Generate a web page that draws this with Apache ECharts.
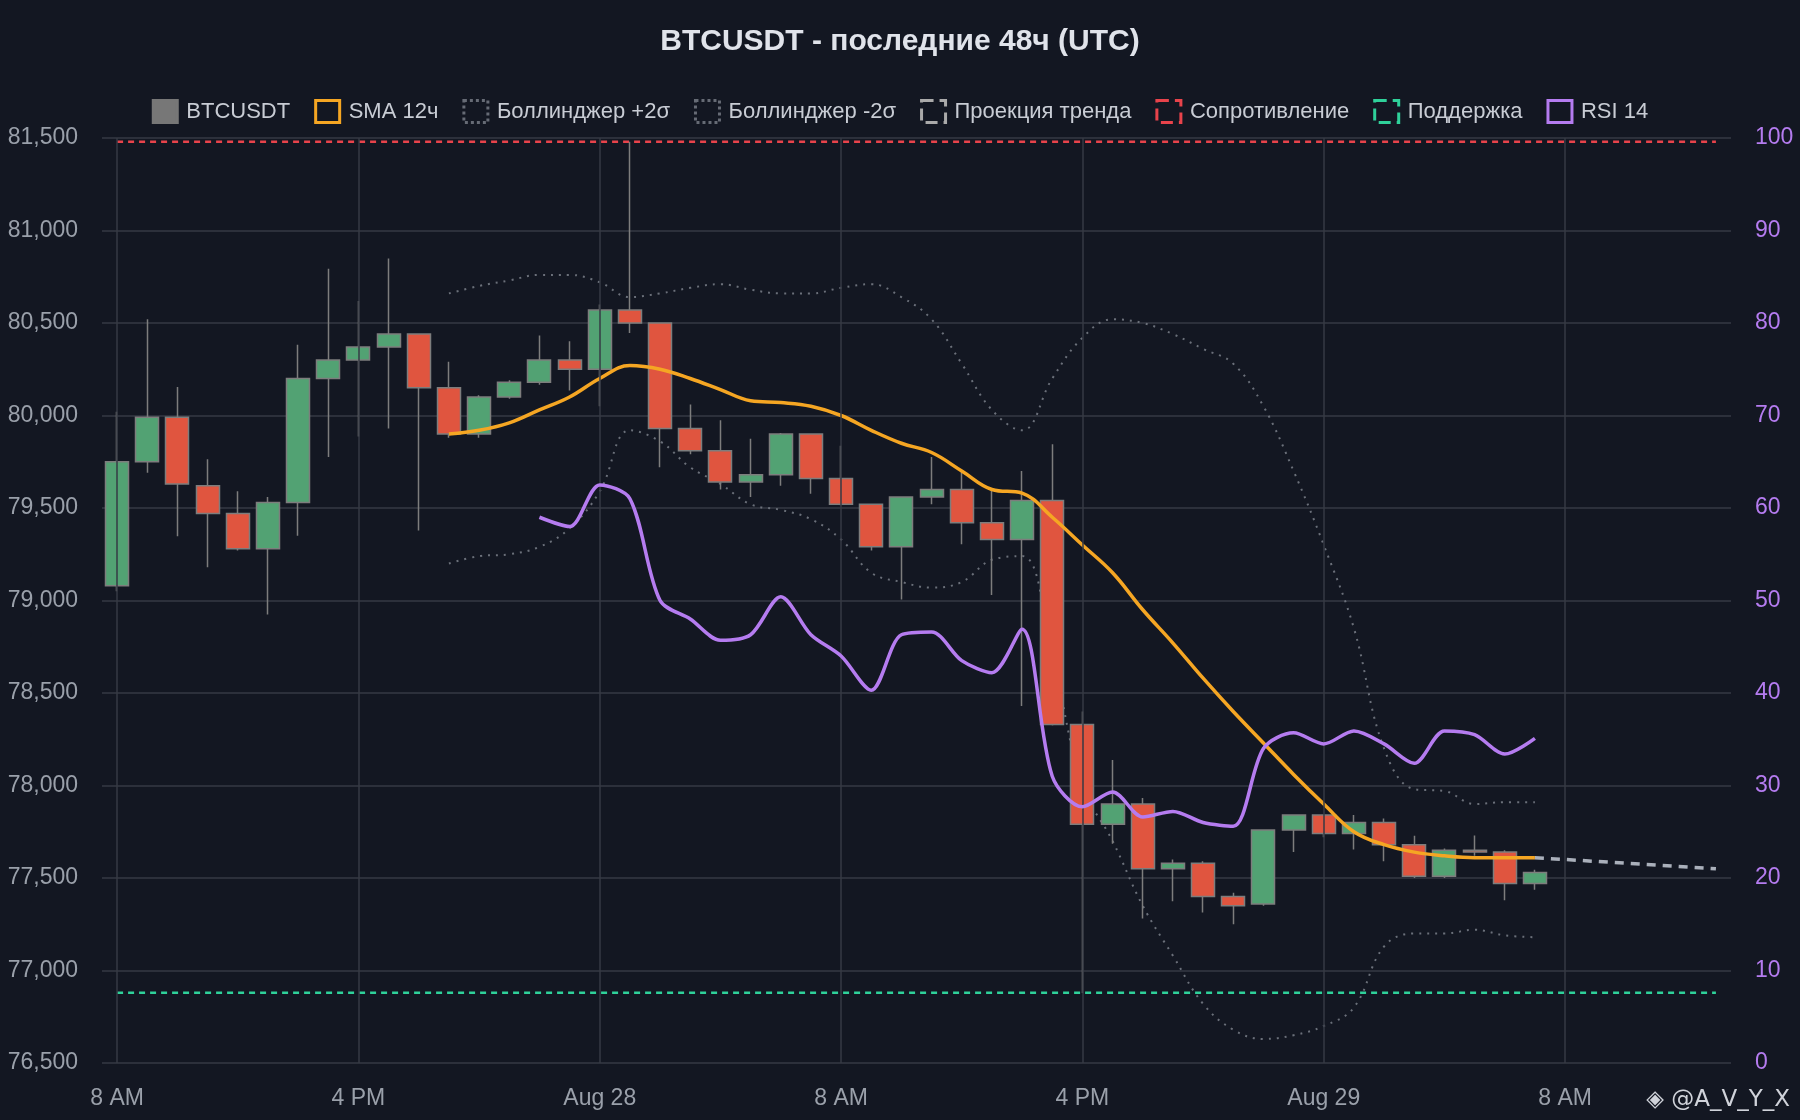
<!DOCTYPE html>
<html><head><meta charset="utf-8">
<script src="https://cdn.jsdelivr.net/npm/echarts@6/dist/echarts.min.js"></script>
<style>html,body{margin:0;background:#131722}#c{width:1800px;height:1120px}</style>
</head><body><div id="c"></div>
<script>
const xLabels = ["8 AM","4 PM","Aug 28","8 AM","4 PM","Aug 29","8 AM"];
// [open, close, low, high]
const ohlc = [
[79080,79750,79050,80020],[79750,79990,79690,80520],[79990,79630,79347,80154],[79620,79470,79180,79763],
[79470,79280,79270,79590],[79280,79530,78925,79560],[79530,80200,79350,80383],[80200,80300,79776,80793],
[80300,80370,79887,80619],[80370,80440,79930,80849],[80440,80150,79378,80440],[80150,79900,79880,80290],
[79900,80100,79880,80110],[80100,80180,80090,80190],[80180,80300,80166,80433],[80300,80250,80135,80402],
[80250,80570,80050,80600],[80570,80500,80446,81480],[80500,79930,79720,80500],[79930,79810,79790,80060],
[79810,79640,79600,79974],[79640,79680,79560,79875],[79680,79900,79620,79906],[79900,79660,79577,79900],
[79660,79520,79515,79837],[79520,79290,79270,79520],[79290,79560,79006,79560],[79560,79600,79520,79776],
[79600,79420,79304,79701],[79420,79330,79030,79608],[79330,79540,78430,79700],[79540,78330,78324,79844],
[78330,77790,76878,78400],[77790,77900,77685,78138],[77900,77550,77281,77932],[77550,77580,77375,77600],
[77580,77400,77313,77590],[77400,77350,77250,77420],[77360,77760,77350,77760],[77760,77840,77641,77840],
[77840,77740,77720,77840],[77740,77800,77654,77840],[77800,77680,77591,77821],[77680,77510,77500,77728],
[77510,77650,77500,77660],[77650,77640,77620,77730],[77640,77470,77380,77650],[77470,77530,77437,77545]
];
const sma = ['-','-','-','-','-','-','-','-','-','-','-',
79900,79920,79960,80030,80100,80200,80270,80250,80200,80140,80080,80070,80050,80000,79920,79850,79800,79700,79600,79580,79450,
79300,79150,78950,78770,78580,78400,78230,78060,77900,77750,77680,77640,77620,77610,77610,77610];
const bbUp = ['-','-','-','-','-','-','-','-','-','-','-',
80660,80700,80730,80760,80760,80720,80640,80660,80690,80710,80680,80660,80660,80690,80710,80640,80520,80280,80030,79920,80200,
80420,80520,80500,80440,80360,80280,80050,79700,79300,78850,78200,77980,77970,77900,77910,77910];
const bbDn = ['-','-','-','-','-','-','-','-','-','-','-',
79200,79240,79250,79290,79390,79590,79920,79860,79720,79630,79520,79490,79440,79330,79150,79100,79070,79100,79220,79240,78700,
78000,77700,77350,77080,76820,76680,76630,76650,76700,76800,77130,77200,77200,77220,77190,77180];
const rsi = ['-','-','-','-','-','-','-','-','-','-','-','-','-','-',
59,58,62.5,61,50,48,45.7,46.3,50.4,46.3,44,40.3,46.3,46.6,43.5,42.2,46.9,31,27.7,29.3,26.6,27.2,26,25.6,
34,35.7,34.5,35.9,34.5,32.4,35.9,35.5,33.4,35.1];
const projection = [77610,77550]; // from last candle to end
const resistance = 81480, support = 76880;
const NCAT = 54;

const cats = []; for (let i=0;i<NCAT;i++) cats.push(String(i));
const projData = cats.map((c,i) => i===47?projection[0]:(i===53?projection[1]:'-'));
const lineAll = v => cats.map(()=>v);
const pad = a => a.concat(new Array(NCAT-a.length).fill('-'));
const vLines = [0,8,16,24,32,40,48].map(i=>({xAxis:String(i)}));

const txt = '#c8ccd4';
const FF = 'Liberation Sans';
const chart = echarts.init(document.getElementById('c'));
const legIcon = (name,color,type,fill) => ({name, icon:'rect', itemStyle:{color:fill||'transparent', borderColor:color, borderWidth:3, borderType:type}});
chart.setOption({
  backgroundColor:'#131722',
  animation:false,
  title:{text:'BTCUSDT - последние 48ч (UTC)', left:'center', top:22, textStyle:{color:'#e0e3ea', fontSize:30, fontWeight:'bold', fontFamily:FF}},
  legend:{top:94, left:'center', itemWidth:24, itemHeight:22, itemGap:24, textStyle:{color:txt, fontSize:22, fontFamily:FF, padding:[0,0,0,4]},
    data:[legIcon('BTCUSDT','#777','solid','#777'), legIcon('SMA 12ч','#f5a623','solid'), legIcon('Боллинджер +2σ','#666b75','dotted'),
      legIcon('Боллинджер -2σ','#666b75','dotted'), legIcon('Проекция тренда','#aaa','dashed'), legIcon('Сопротивление','#e8434b','dashed'),
      legIcon('Поддержка','#2fd19a','dashed'), legIcon('RSI 14','#b57cf0','solid')]},
  grid:{left:102, right:69, top:138, bottom:57},
  xAxis:{type:'category', data:cats, boundaryGap:true,
    axisLine:{show:false}, axisTick:{show:false},
    axisLabel:{interval:(i)=>i%8===0, formatter:(v,i)=>xLabels[i/8]||'', color:'#9aa0aa', fontSize:23, fontFamily:FF, margin:24},
    splitLine:{show:false}},
  yAxis:[{type:'value', min:76500, max:81500, interval:500, position:'left',
    axisLine:{show:false}, axisLabel:{color:'#9aa0aa', fontSize:23, fontFamily:FF, margin:24, formatter:v=>v.toLocaleString('en-US')},
    splitLine:{lineStyle:{color:'#363a45', width:1.5}}},
    {type:'value', min:0, max:100, interval:10, position:'right',
    axisLine:{show:false}, axisLabel:{color:'#b57cf0', fontSize:23, fontFamily:FF, margin:24}, splitLine:{show:false}}],
  series:[
    {name:'Боллинджер +2σ', type:'line', data:pad(bbUp), smooth:0.4, symbol:'none', lineStyle:{color:'#6b707a', width:2, type:[2,6]}, z:1,
      markLine:{silent:true, symbol:'none', label:{show:false}, lineStyle:{color:'#363a45', width:1.5, type:'solid'}, data:vLines}},
    {name:'Боллинджер -2σ', type:'line', data:pad(bbDn), smooth:0.4, symbol:'none', lineStyle:{color:'#6b707a', width:2, type:[2,6]}, z:1},
    {name:'Сопротивление', type:'line', data:lineAll(resistance), symbol:'none', lineStyle:{color:'#e8434b', width:2.5, type:[6,5]}, z:1},
    {name:'Поддержка', type:'line', data:lineAll(support), symbol:'none', lineStyle:{color:'#2fd19a', width:2.5, type:[6,5]}, z:1},
    {name:'BTCUSDT', type:'candlestick', data:ohlc, barWidth:'78%', z:3,
      itemStyle:{color:'#52a273', color0:'#e0553f', borderColor:'#7d7d7d', borderColor0:'#7d7d7d', borderWidth:1.5}},
    {name:'SMA 12ч', type:'line', data:pad(sma), smooth:0.4, symbol:'none', lineStyle:{color:'#f5a623', width:3.5}, z:4},
    {name:'Проекция тренда', type:'line', data:projData, connectNulls:true, symbol:'none', lineStyle:{color:'#aab0bb', width:3.5, type:[9,7]}, z:4},
    {name:'RSI 14', type:'line', yAxisIndex:1, data:pad(rsi), smooth:0.3, symbol:'none', lineStyle:{color:'#b57cf0', width:3.5}, z:5}
  ],
  graphic:[{type:'text', right:10, bottom:8, style:{text:'◈ @A_V_Y_X', fill:'#d0d3da', fontSize:23, fontFamily:'DejaVu Sans'}}]
});
</script></body></html>
